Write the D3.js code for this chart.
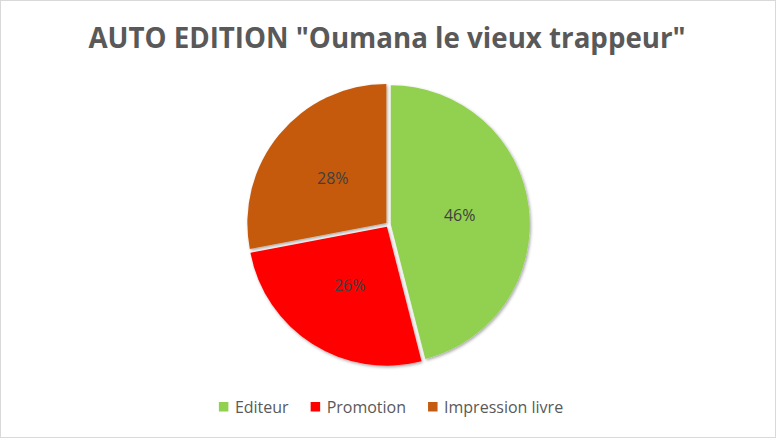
<!DOCTYPE html>
<html>
<head>
<meta charset="utf-8">
<script src="https://cdn.jsdelivr.net/npm/d3@7"></script>
<style>
  body { margin: 0; background: #fff; }
  svg { display: block; font-family: "Open Sans", sans-serif; }
</style>
</head>
<body>
<svg id="chart"></svg>
<script>
// chart data
const categories = ['Editeur', 'Promotion', 'Impression livre'];
const shares = [46, 26, 28];
const colors = ['#92D050', '#FF0000', '#C55A11'];
const title = 'AUTO EDITION "Oumana le vieux trappeur"';

const width = 776, height = 438;
const cx = 388.3, cy = 224.6, radius = 139, explode = 2.5;

const svg = d3.select('#chart')
  .attr('width', width)
  .attr('height', height);

// outer frame
svg.append('rect')
  .attr('x', 0.5).attr('y', 0.5)
  .attr('width', width - 1).attr('height', height - 1)
  .attr('fill', '#fff')
  .attr('stroke', '#d9d9d9');

// soft shadow under the slices
const defs = svg.append('defs');
defs.append('filter')
  .attr('id', 'shadow')
  .attr('x', '-20%').attr('y', '-20%')
  .attr('width', '140%').attr('height', '140%')
  .append('feDropShadow')
  .attr('dx', 1.2).attr('dy', 1.5)
  .attr('stdDeviation', 1.4)
  .attr('flood-color', '#000')
  .attr('flood-opacity', 0.35);

svg.append('text')
  .attr('x', 387)
  .attr('y', 48)
  .attr('text-anchor', 'middle')
  .attr('font-size', 27.7)
  .attr('font-weight', 700)
  .attr('fill', '#595959')
  .text(title);

const data = categories.map((c, i) => ({ name: c, value: shares[i], color: colors[i] }));

const pie = d3.pie().sort(null).value(d => d.value);
const arc = d3.arc().innerRadius(0).outerRadius(radius);
const arcs = pie(data);

const g = svg.append('g').attr('transform', `translate(${cx},${cy})`);

const offset = d => {
  const a = (d.startAngle + d.endAngle) / 2;
  return [Math.sin(a) * explode, -Math.cos(a) * explode];
};

const slice = g.selectAll('g.slice')
  .data(arcs)
  .enter()
  .append('g')
  .attr('class', 'slice')
  .attr('transform', d => `translate(${offset(d)})`);

slice.append('path')
  .attr('d', arc)
  .attr('fill', d => d.data.color)
  .attr('filter', 'url(#shadow)');

slice.append('text')
  .attr('transform', d => `translate(${arc.centroid(d)})`)
  .attr('text-anchor', 'middle')
  .attr('dy', '0.35em')
  .attr('font-size', 16)
  .attr('fill', '#404040')
  .text(d => d.data.value + '%');

// legend
const legend = svg.append('g').attr('class', 'legend');
const item = legend.selectAll('g')
  .data(data)
  .enter()
  .append('g');

item.append('rect')
  .attr('width', 9.5)
  .attr('height', 9.5)
  .attr('y', -10.7)
  .attr('fill', d => d.color);

item.append('text')
  .attr('x', 16)
  .attr('font-size', 16)
  .attr('fill', '#595959')
  .text(d => d.name);

let x = 0;
const positions = [];
item.each(function () {
  positions.push(x);
  x += 16 + this.querySelector('text').getComputedTextLength() + 22;
});
const total = x - 22;
const startX = 391 - total / 2;
item.attr('transform', (d, i) => `translate(${startX + positions[i]},412.7)`);
</script>
</body>
</html>
